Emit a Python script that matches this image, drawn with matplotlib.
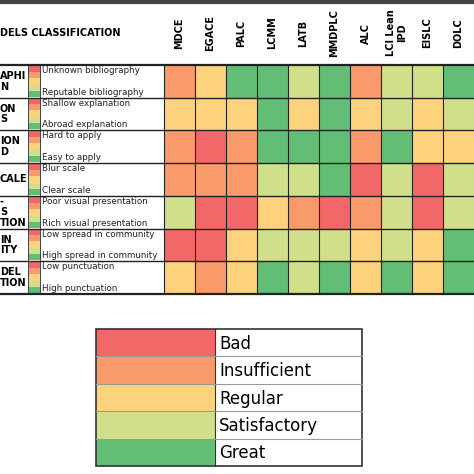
import numpy as np
import matplotlib
matplotlib.use("Agg")
import matplotlib.pyplot as plt
from matplotlib.colors import ListedColormap
from matplotlib.patches import Rectangle

models = ["MDCE", "EGACE", "PALC", "LCMM", "LATB", "MMDPLC", "ALC", "LCI Lean\nIPD", "EISLC", "DOLC"]
row_labels = ["APHI\nN", "ON\nS", "ION\nD", "CALE", "-\nS\nTION", "IN\nITY", "DEL\nTION"]
desc_top = ["Unknown bibliography", "Shallow explanation", "Hard to apply", "Blur scale",
            "Poor visual presentation", "Low spread in community", "Low punctuation"]
desc_bot = ["Reputable bibliography", "Abroad explanation", "Easy to apply", "Clear scale",
            "Rich visual presentation", "High spread in community", "High punctuation"]
scores = [
    [2, 3, 5, 5, 4, 5, 2, 4, 4, 5],
    [3, 3, 3, 5, 3, 5, 3, 4, 3, 4],
    [2, 1, 2, 5, 5, 5, 2, 5, 3, 3],
    [2, 2, 2, 4, 4, 5, 1, 4, 1, 4],
    [4, 1, 1, 3, 2, 1, 2, 4, 1, 4],
    [1, 1, 3, 4, 4, 4, 3, 4, 3, 5],
    [3, 2, 3, 5, 4, 5, 3, 5, 3, 5],
]
levels = ["Bad", "Insufficient", "Regular", "Satisfactory", "Great"]
colors = ["#f26868", "#f89a6a", "#fdd27c", "#d0e08a", "#62bd75"]

fig = plt.figure(figsize=(4.74, 4.74), dpi=100)
ax = fig.add_axes([0, 0, 1, 1])
ax.set_xlim(0, 474); ax.set_ylim(474, 0); ax.axis("off")
cmap = ListedColormap(colors)

# top border
ax.plot([0, 474], [2, 2], color="#444444", lw=3)
ax.text(0, 33, "DELS CLASSIFICATION", fontsize=7, fontweight="bold", va="center", ha="left")

gx0, gx1, gy0, gy1 = 164, 474, 65, 294
nr, nc = len(scores), len(models)
cw = (gx1 - gx0) / nc; rh = (gy1 - gy0) / nr
ax.imshow(np.array(scores), cmap=cmap, vmin=0.5, vmax=5.5, extent=(gx0, gx1, gy1, gy0),
          aspect="auto", interpolation="nearest")
for j, m in enumerate(models):
    ax.text(gx0 + (j + 0.5) * cw, 33, m, rotation=90, fontsize=7, fontweight="bold",
            ha="center", va="center", multialignment="center")
    ax.plot([gx0 + j * cw] * 2, [gy0, gy1], color="#222222", lw=0.8)
for i in range(nr):
    y0 = gy0 + i * rh
    ax.text(0, y0 + rh / 2, row_labels[i], fontsize=7, fontweight="bold", va="center", ha="left", linespacing=1.1)
    ax.imshow(np.arange(1, 6).reshape(-1, 1), cmap=cmap, vmin=0.5, vmax=5.5,
              extent=(29, 40, y0 + rh - 1, y0 + 1), aspect="auto", interpolation="nearest")
    ax.text(42, y0 + 1, desc_top[i], fontsize=6.3, va="top", ha="left", color="#222222")
    ax.text(42, y0 + rh - 1, desc_bot[i], fontsize=6.3, va="bottom", ha="left", color="#222222")
for i in range(nr + 1):
    y = gy0 + i * rh
    ax.plot([0, 474], [y, y], color="#222222", lw=1.6 if i in (0, nr) else 1.0)
ax.plot([28.5, 28.5], [gy0, gy1], color="#222222", lw=0.6)
ax.plot([40.5, 40.5], [gy0, gy1], color="#222222", lw=0.6)
ax.set_xlim(0, 474); ax.set_ylim(474, 0)

# legend
lx0, lx1, lsw, ly0, ly1 = 96, 362, 215, 329, 466
lh = (ly1 - ly0) / len(levels)
ax.imshow(np.arange(1, 6).reshape(-1, 1), cmap=cmap, vmin=0.5, vmax=5.5,
          extent=(lx0, lsw, ly1, ly0), aspect="auto", interpolation="nearest")
ax.add_patch(Rectangle((lx0, ly0), lx1 - lx0, ly1 - ly0, fill=False, ec="#333333", lw=1.2))
ax.plot([lsw, lsw], [ly0, ly1], color="#333333", lw=0.8)
for k, lv in enumerate(levels):
    y = ly0 + k * lh
    if k:
        ax.plot([lx0, lx1], [y, y], color="#999999", lw=0.8)
    ax.text(lsw + 4, y + lh / 2 + 1, lv, fontsize=12, va="center", ha="left")
ax.set_xlim(0, 474); ax.set_ylim(474, 0)
fig.savefig("out.png", dpi=100)
